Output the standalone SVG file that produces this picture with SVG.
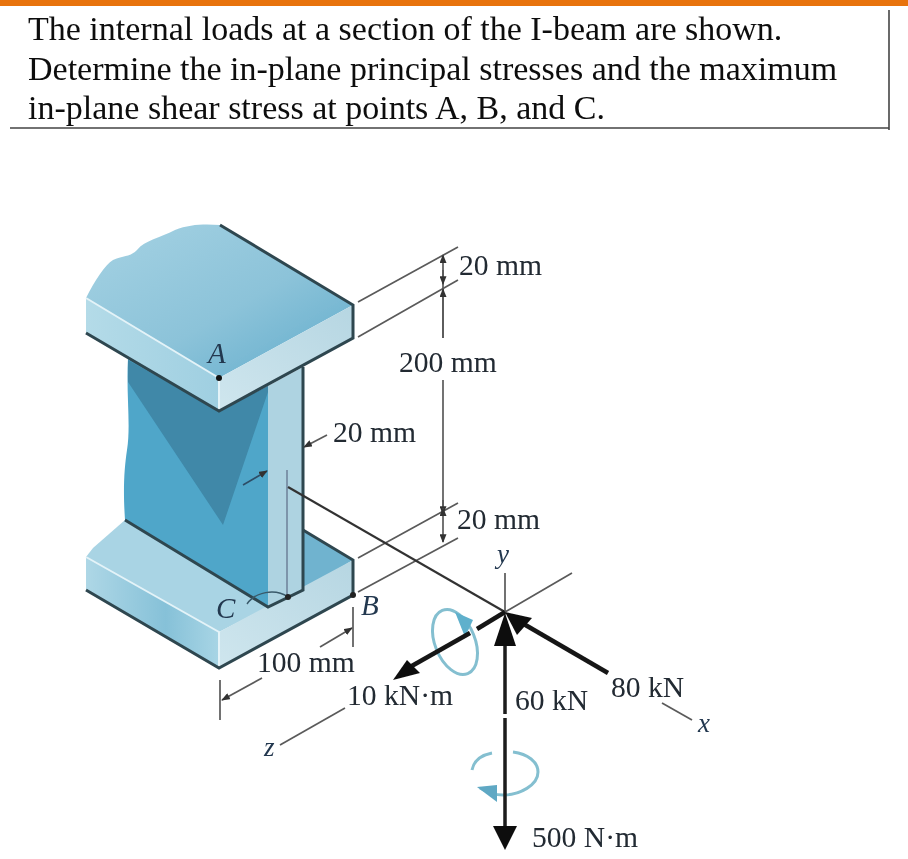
<svg xmlns="http://www.w3.org/2000/svg" width="908" height="859" viewBox="0 0 908 859">
<style>
text{font-family:"Liberation Serif","Times New Roman",serif;fill:#222a33}
.q{font-size:34px;fill:#111}
.d{font-size:29.6px}
.i{font-size:29px;font-style:italic;fill:#24384f}
.s{font-size:27px}
.edge{fill:none;stroke:#2f4650;stroke-width:3}
.dim{fill:none;stroke:#5a5a5a;stroke-width:1.7}
.load{fill:none;stroke:#151515;stroke-width:4.5}
.shaft{fill:none;stroke:#1c1c1c;stroke-width:3.5}
.ring{fill:none;stroke:#84bfd0;stroke-width:3}
.hl{fill:none;stroke:#e4f3f8;stroke-width:2}
</style>
<defs>
<linearGradient id="topG" x1="0" y1="0" x2="1" y2="1"><stop offset="0" stop-color="#a5d2e3"/><stop offset="0.55" stop-color="#8cc3d9"/><stop offset="1" stop-color="#5fabcb"/></linearGradient>
<linearGradient id="faceG" x1="0" y1="0" x2="1" y2="0"><stop offset="0" stop-color="#b4dbe8"/><stop offset="1" stop-color="#9fcfe1"/></linearGradient>
<linearGradient id="lowG" x1="0" y1="0" x2="1" y2="0"><stop offset="0" stop-color="#aed7e6"/><stop offset="0.6" stop-color="#86c1d8"/><stop offset="1" stop-color="#a8d5e5"/></linearGradient>
<linearGradient id="sideG" x1="0" y1="1" x2="1" y2="0"><stop offset="0" stop-color="#cfe6ee"/><stop offset="1" stop-color="#b6d6e2"/></linearGradient>
<filter id="soft" x="-5%" y="-5%" width="110%" height="110%"><feGaussianBlur stdDeviation="0.6"/></filter>
<filter id="softer" x="-2%" y="-2%" width="104%" height="104%"><feGaussianBlur stdDeviation="0.35"/></filter>
<marker id="sm" viewBox="0 0 10 8" refX="9" refY="4" markerWidth="9" markerHeight="7" orient="auto-start-reverse" markerUnits="userSpaceOnUse"><path d="M0 0L10 4L0 8Z" fill="#333"/></marker>
</defs>

<g id="question" filter="url(#softer)">
<rect x="0" y="0" width="908" height="6" fill="#e8730a"/>
<path d="M889 10V130M10 128H889" fill="none" stroke="#444" stroke-width="1.6"/>
<text class="q" x="28" y="40">The internal loads at a section of the I-beam are shown.</text>
<text class="q" x="28" y="80">Determine the in-plane principal stresses and the maximum</text>
<text class="q" x="28" y="119">in-plane shear stress at points A, B, and C.</text>
</g>

<g filter="url(#soft)">
<g id="bottom-flange">
<path d="M125 520L93 548L86 557L219 632L268 607Z" fill="#a9d4e4"/>
<path d="M303 530L353 560L303 590Z" fill="#6fb3cf"/>
<path d="M86 557L219 632V668L86 590Z" fill="url(#lowG)"/>
<path d="M219 632L353 560V595L219 668Z" fill="url(#sideG)"/>
<path class="hl" d="M86 557L219 632V668"/>
<path class="edge" d="M86 590L219 668L353 595V560L303 530"/>
</g>
<g id="web">
<path d="M128 358L219 411L268 386V607L125 520C123 490 124 470 127 450C131 425 126 395 128 358Z" fill="#4fa6c9"/>
<path d="M128 360L219 411L268 386V392L223 525L128 382Z" fill="#3f88a8"/>
<path d="M268 386L303 367V590L268 607Z" fill="#aed3e1"/>
<path class="edge" d="M125 520L268 607L303 590V367"/>
<path d="M287 470V597" fill="none" stroke="#7d95ab" stroke-width="2"/>
</g>
<g id="top-flange">
<path d="M86 298C95 280 105 265 113 260C125 255 130 257 137 250C145 240 160 238 175 230C190 224 205 224 220 225L353 305L219 378Z" fill="url(#topG)"/>
<path d="M86 298L219 378V411L86 333Z" fill="url(#faceG)"/>
<path d="M219 378L353 305V338L219 411Z" fill="url(#sideG)"/>
<path class="hl" d="M86 298L219 378V411"/>
<path class="edge" d="M220 225L353 305V338L219 411L86 333"/>
</g>
</g>

<g id="connectors" filter="url(#softer)">
<path class="dim" d="M358 302L458 247M358 337L458 280M358 558L458 503M358 592L458 538"/>
<path class="dim" d="M443 338V255" marker-end="url(#sm)"/>
<path class="dim" d="M443 270V284" marker-end="url(#sm)"/>
<path class="dim" d="M443 338V289" marker-end="url(#sm)"/>
<path class="dim" d="M443 380V512"/>
<path class="dim" d="M443 500V514" marker-end="url(#sm)"/>
<path class="dim" d="M443 520V508" marker-end="url(#sm)"/>
<path class="dim" d="M443 520V542" marker-end="url(#sm)"/>
<path class="dim" d="M327 435L304 447" marker-end="url(#sm)"/>
<path d="M243 485L267 471" fill="none" stroke="#2d4d66" stroke-width="1.6" marker-end="url(#sm)"/>
<path class="dim" d="M353 607V647M220 680V720"/>
<path class="dim" d="M320 647L352 628" marker-end="url(#sm)"/>
<path class="dim" d="M262 678L222 700" marker-end="url(#sm)"/>
<path d="M247 604C255 592 275 588 288 597" fill="none" stroke="#3a5a6a" stroke-width="1.4"/>
<path d="M288 487L505 612" fill="none" stroke="#333" stroke-width="2.2"/>
<path class="dim" d="M662 703L692 720"/>
<path class="dim" d="M505 573V612L572 573"/>
<path class="dim" d="M345 708L280 745"/>

<ellipse class="ring" cx="455" cy="642" rx="20" ry="34" transform="rotate(-22 455 642)"/>
<path d="M455 612L473 620L465 637Z" fill="#5fb0cc"/>
<path class="load" d="M505 612L477 629M470 633L410 667"/>
<path d="M393 680L407 660L420 673Z" fill="#111"/>
<path class="ring" d="M472 770C474 760 482 755 492 753M513 752C528 754 538 762 538 772C538 785 520 795 503 795C495 795 487 792 480 788"/>
<path d="M477 787L497 785V802Z" fill="#5fa8c4"/>
<path class="shaft" d="M505 640V714M505 718V830"/>
<path d="M505 613L516 646H494Z" fill="#111"/>
<path d="M505 850L493 826H517Z" fill="#111"/>
<path class="load" d="M608 673L522 623"/>
<path d="M505 612L532 618L517 635Z" fill="#111"/>
</g>

<g id="points">
<circle cx="219" cy="378" r="3" fill="#111"/>
<circle cx="288" cy="597" r="3" fill="#222"/>
<circle cx="353" cy="595" r="3" fill="#222"/>
</g>

<g id="labels" filter="url(#softer)">
<text class="i" x="208" y="363">A</text>
<text class="i" x="361" y="615">B</text>
<text class="i" x="216" y="618">C</text>
<text class="i s" x="497" y="563">y</text>
<text class="i s" x="698" y="732">x</text>
<text class="i s" x="264" y="756">z</text>
<text class="d" x="459" y="275">20 mm</text>
<text class="d" x="399" y="372">200 mm</text>
<text class="d" x="333" y="442">20 mm</text>
<text class="d" x="457" y="529">20 mm</text>
<text class="d" x="257" y="672">100 mm</text>
<text class="d" x="347" y="705">10 kN·m</text>
<text class="d" x="515" y="710">60 kN</text>
<text class="d" x="611" y="697">80 kN</text>
<text class="d" x="532" y="847">500 N·m</text>
</g>
</svg>
